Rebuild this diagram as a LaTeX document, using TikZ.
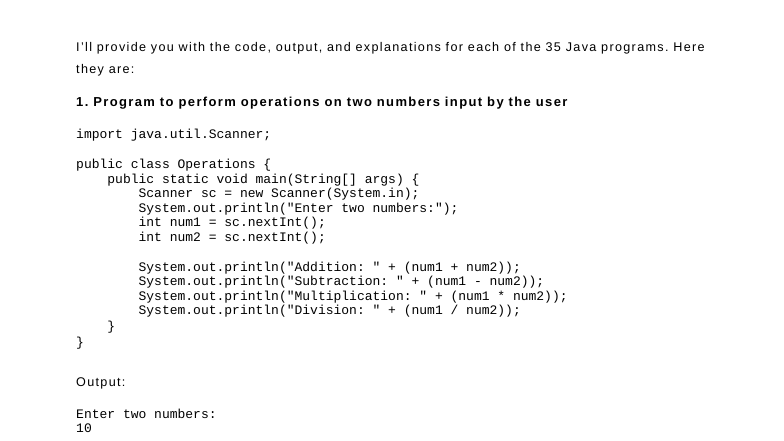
\documentclass[tikz,border=0pt]{standalone}
\usepackage{fontspec}
\setmainfont{Liberation Sans}[LetterSpace=10.5]
\newfontfamily\codefont{Liberation Mono}
\frenchspacing
\begin{document}
\begin{tikzpicture}[x=1pt,y=-1pt,
  txt/.style={anchor=base west,inner sep=0pt,font=\fontsize{12.6}{14}\selectfont},
  hd/.style={anchor=base west,inner sep=0pt,font=\fontsize{13}{15}\selectfont\bfseries},
  code/.style={anchor=base west,inner sep=0pt,font=\codefont\fontsize{13}{14}\selectfont}]
\useasboundingbox[fill=white] (0,0) rectangle (784,441);
\node[txt] (t1) at (76,52) {I'll provide you with the code, output, and explanations for each of the 35 Java programs. Here};
\node[txt] (t2) at (76,74) {they are:};
\node[hd] (h1) at (76,107) {1. Program to perform operations on two numbers input by the user};
\node[code] (c0) at (76,139) {import java.util.Scanner;};
\node[code] (c1) at (76,168) {public class Operations \{};
\node[code] (c2) at (76,183) {\ \ \ \ public static void main(String[] args) \{};
\node[code] (c3) at (76,197.5) {\ \ \ \ \ \ \ \ Scanner sc = new Scanner(System.in);};
\node[code] (c4) at (76,212) {\ \ \ \ \ \ \ \ System.out.println("Enter two numbers:");};
\node[code] (c5) at (76,226.5) {\ \ \ \ \ \ \ \ int num1 = sc.nextInt();};
\node[code] (c6) at (76,241) {\ \ \ \ \ \ \ \ int num2 = sc.nextInt();};
\node[code] (c7) at (76,271) {\ \ \ \ \ \ \ \ System.out.println("Addition: " + (num1 + num2));};
\node[code] (c8) at (76,285.5) {\ \ \ \ \ \ \ \ System.out.println("Subtraction: " + (num1 - num2));};
\node[code] (c9) at (76,300) {\ \ \ \ \ \ \ \ System.out.println("Multiplication: " + (num1 * num2));};
\node[code] (c10) at (76,314.5) {\ \ \ \ \ \ \ \ System.out.println("Division: " + (num1 / num2));};
\node[code] (c11) at (76,330) {\ \ \ \ \}};
\node[code] (c12) at (76,346) {\}};
\node[txt] (o1) at (76,386) {Output:};
\node[code] (o2) at (76,418) {Enter two numbers:};
\node[code] (o3) at (76,432.5) {10};
\end{tikzpicture}
\end{document}
